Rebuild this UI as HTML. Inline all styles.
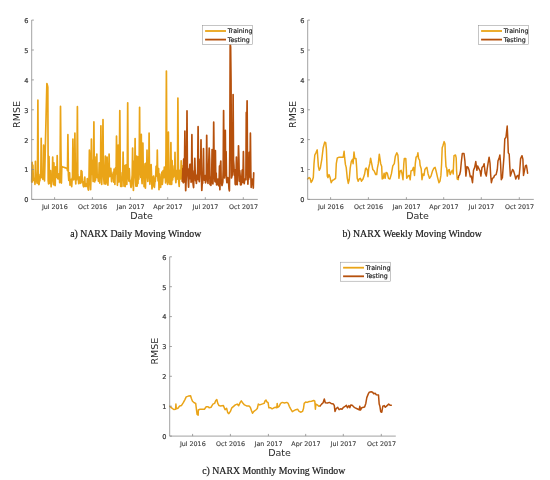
<!DOCTYPE html>
<html><head><meta charset="utf-8"><title>NARX Moving Window RMSE</title>
<style>
html,body{margin:0;padding:0;background:#fff;}
svg{display:block;}
</style></head>
<body>
<svg width="550" height="480" viewBox="0 0 550 480">
<rect width="550" height="480" fill="#ffffff"/>
<g transform="translate(0.0 0.0)">
<path d="M31.7 182.0 L32.1 162.4 L32.5 181.9 L32.9 165.2 L33.3 179.1 L33.8 180.1 L34.2 178.6 L34.6 178.6 L35.0 184.4 L35.4 161.3 L35.8 181.5 L36.2 178.4 L36.6 179.8 L37.1 183.2 L37.5 170.1 L37.9 100.2 L38.3 170.9 L38.7 184.6 L39.1 184.1 L39.5 179.8 L39.9 180.7 L40.3 174.3 L40.8 178.0 L41.2 138.3 L41.6 177.1 L42.0 177.0 L42.4 173.5 L42.8 179.3 L43.2 174.1 L43.6 145.2 L44.1 176.3 L44.5 180.9 L44.9 164.7 L45.3 148.4 L45.7 132.2 L46.1 116.0 L46.5 99.7 L46.9 83.5 L47.4 85.3 L47.8 87.1 L48.2 180.9 L48.6 183.9 L49.0 156.5 L49.4 179.1 L49.8 178.5 L50.2 183.4 L50.6 170.7 L51.1 186.8 L51.5 180.6 L51.9 177.5 L52.3 180.3 L52.7 157.1 L53.1 179.9 L53.5 184.7 L53.9 162.9 L54.4 184.8 L54.8 174.6 L55.2 185.6 L55.6 166.8 L56.0 176.8 L56.4 171.3 L56.8 177.3 L57.2 155.5 L57.6 178.3 L58.1 178.9 L58.5 178.1 L58.9 173.8 L59.3 174.0 L59.7 182.6 L60.1 166.7 L60.5 106.4 L60.9 148.1 L61.4 183.1 L61.8 166.6 L62.2 166.8 L62.6 166.9 L63.0 167.0 L63.4 167.2 L63.8 167.3 L64.2 167.4 L64.6 167.6 L65.1 167.7 L65.5 167.9 L65.9 168.0 L66.3 168.1 L66.7 168.3 L67.1 168.4 L67.5 170.6 L67.9 134.7 L68.4 175.0 L68.8 180.5 L69.2 177.9 L69.6 172.8 L70.0 185.1 L70.4 180.4 L70.8 182.6 L71.2 179.4 L71.7 186.7 L72.1 180.0 L72.5 176.3 L72.9 139.2 L73.3 175.1 L73.7 179.8 L74.1 178.8 L74.5 168.4 L74.9 133.2 L75.4 177.1 L75.8 184.0 L76.2 165.0 L76.6 179.9 L77.0 160.5 L77.4 106.7 L77.8 174.7 L78.2 177.4 L78.7 183.6 L79.1 182.6 L79.5 177.2 L79.9 182.9 L80.3 176.8 L80.7 183.3 L81.1 170.7 L81.5 181.9 L81.9 171.3 L82.4 180.7 L82.8 181.7 L83.2 185.6 L83.6 186.8 L84.0 183.3 L84.4 180.9 L84.8 177.1 L85.2 186.5 L85.7 183.5 L86.1 185.4 L86.5 184.8 L86.9 186.5 L87.3 178.7 L87.7 184.2 L88.1 189.2 L88.5 190.0 L89.0 178.8 L89.4 150.2 L89.8 157.7 L90.2 178.1 L90.6 189.6 L91.0 176.6 L91.4 139.2 L91.8 174.4 L92.2 160.0 L92.7 166.1 L93.1 181.6 L93.5 164.8 L93.9 121.9 L94.3 169.9 L94.7 182.0 L95.1 175.0 L95.5 180.3 L96.0 156.8 L96.4 173.0 L96.8 154.1 L97.2 177.6 L97.6 176.3 L98.0 176.0 L98.4 181.1 L98.8 177.4 L99.2 162.9 L99.7 183.1 L100.1 163.6 L100.5 172.7 L100.9 125.8 L101.3 174.3 L101.7 184.4 L102.1 173.6 L102.5 164.4 L103.0 119.5 L103.4 170.4 L103.8 179.3 L104.2 183.9 L104.6 169.1 L105.0 166.9 L105.4 156.0 L105.8 184.1 L106.2 182.1 L106.7 170.3 L107.1 157.1 L107.5 177.8 L107.9 185.2 L108.3 174.9 L108.7 177.3 L109.1 154.1 L109.5 175.2 L110.0 170.1 L110.4 176.4 L110.8 168.4 L111.2 174.4 L111.6 181.7 L112.0 176.2 L112.4 177.2 L112.8 174.9 L113.3 172.2 L113.7 182.1 L114.1 169.1 L114.5 175.1 L114.9 184.4 L115.3 169.2 L115.7 167.5 L116.1 173.9 L116.5 136.2 L117.0 171.5 L117.4 185.3 L117.8 174.5 L118.2 145.2 L118.6 158.1 L119.0 182.0 L119.4 162.1 L119.8 110.6 L120.3 170.4 L120.7 186.5 L121.1 181.9 L121.5 177.1 L121.9 186.5 L122.3 172.7 L122.7 176.4 L123.1 152.0 L123.5 172.8 L124.0 186.1 L124.4 165.6 L124.8 181.0 L125.2 186.6 L125.6 169.9 L126.0 164.9 L126.4 181.4 L126.8 184.4 L127.3 167.6 L127.7 102.8 L128.1 171.6 L128.5 177.4 L128.9 181.2 L129.3 168.5 L129.7 178.8 L130.1 180.8 L130.5 183.7 L131.0 187.4 L131.4 186.2 L131.8 179.5 L132.2 175.2 L132.6 148.1 L133.0 173.2 L133.4 190.4 L133.8 177.1 L134.3 161.0 L134.7 173.2 L135.1 138.6 L135.5 177.8 L135.9 186.1 L136.3 179.4 L136.7 156.0 L137.1 186.2 L137.6 180.6 L138.0 183.5 L138.4 156.5 L138.8 179.3 L139.2 160.3 L139.6 107.3 L140.0 173.2 L140.4 171.4 L140.8 177.5 L141.3 134.4 L141.7 178.2 L142.1 183.7 L142.5 161.7 L142.9 143.1 L143.3 174.2 L143.7 171.1 L144.1 186.7 L144.6 172.8 L145.0 163.9 L145.4 188.1 L145.8 177.8 L146.2 162.9 L146.6 176.5 L147.0 150.2 L147.4 176.4 L147.8 181.4 L148.3 170.3 L148.7 177.2 L149.1 133.2 L149.5 174.4 L149.9 184.3 L150.3 173.4 L150.7 181.1 L151.1 164.6 L151.6 177.9 L152.0 189.0 L152.4 185.3 L152.8 186.0 L153.2 176.9 L153.6 176.1 L154.0 179.1 L154.4 187.4 L154.9 181.1 L155.3 181.5 L155.7 176.1 L156.1 166.3 L156.5 175.8 L156.9 176.0 L157.3 150.2 L157.7 174.2 L158.1 180.9 L158.6 168.5 L159.0 189.7 L159.4 176.5 L159.8 174.2 L160.2 182.3 L160.6 187.5 L161.0 182.4 L161.4 181.4 L161.9 172.0 L162.3 184.5 L162.7 181.0 L163.1 170.6 L163.5 173.4 L163.9 177.7 L164.3 167.2 L164.7 171.4 L165.1 170.9 L165.6 182.9 L166.0 152.5 L166.4 71.0 L166.8 156.7 L167.2 179.8 L167.6 184.4 L168.0 176.7 L168.4 132.0 L168.9 173.8 L169.3 182.4 L169.7 184.1 L170.1 184.4 L170.5 176.3 L170.9 142.5 L171.3 174.8 L171.7 184.4 L172.1 160.7 L172.6 179.9 L173.0 174.0 L173.4 177.1 L173.8 175.7 L174.2 165.8 L174.6 175.9 L175.0 152.3 L175.4 177.1 L175.9 182.6 L176.3 177.4 L176.7 170.4 L177.1 179.2 L177.5 170.3 L177.9 98.1 L178.3 162.0 L178.7 181.7 L179.2 186.4 L179.6 170.3 L180.0 173.5 L180.4 178.8 L180.8 178.9 L181.2 160.8 L181.6 168.8 L182.0 165.5 L182.4 181.3" fill="none" stroke="#EAA417" stroke-width="1.7" stroke-linejoin="round" stroke-linecap="round"/>
<path d="M182.4 181.3 L182.9 168.4 L183.3 182.8 L183.7 159.1 L184.1 181.9 L184.5 165.4 L184.9 131.2 L185.3 170.6 L185.7 190.7 L186.2 178.5 L186.6 172.2 L187.0 110.9 L187.4 173.1 L187.8 168.5 L188.2 179.8 L188.6 187.2 L189.0 175.7 L189.4 171.4 L189.9 164.4 L190.3 178.7 L190.7 164.3 L191.1 182.3 L191.5 176.7 L191.9 134.7 L192.3 178.8 L192.7 179.5 L193.2 184.8 L193.6 187.6 L194.0 170.9 L194.4 171.5 L194.8 158.3 L195.2 172.8 L195.6 180.8 L196.0 177.3 L196.4 183.4 L196.9 175.0 L197.3 179.7 L197.7 166.9 L198.1 126.7 L198.5 170.5 L198.9 179.5 L199.3 181.7 L199.7 174.2 L200.2 159.1 L200.6 173.4 L201.0 139.8 L201.4 174.0 L201.8 190.4 L202.2 183.6 L202.6 183.5 L203.0 176.0 L203.5 148.7 L203.9 179.5 L204.3 180.1 L204.7 178.8 L205.1 175.7 L205.5 182.8 L205.9 181.5 L206.3 177.0 L206.7 135.3 L207.2 178.4 L207.6 178.2 L208.0 183.5 L208.4 172.6 L208.8 162.4 L209.2 148.1 L209.6 159.2 L210.0 184.4 L210.5 178.2 L210.9 185.5 L211.3 180.4 L211.7 175.4 L212.1 149.6 L212.5 180.1 L212.9 183.9 L213.3 172.0 L213.7 122.2 L214.2 173.1 L214.6 176.8 L215.0 181.7 L215.4 150.5 L215.8 181.9 L216.2 173.0 L216.6 184.9 L217.0 180.0 L217.5 184.5 L217.9 179.1 L218.3 183.8 L218.7 185.7 L219.1 181.5 L219.5 166.1 L219.9 189.7 L220.3 166.4 L220.8 161.0 L221.2 182.9 L221.6 183.2 L222.0 185.5 L222.4 183.7 L222.8 182.0 L223.2 170.1 L223.6 110.6 L224.0 168.1 L224.5 177.9 L224.9 169.9 L225.3 130.3 L225.7 175.3 L226.1 151.6 L226.5 178.7 L226.9 182.7 L227.3 181.1 L227.8 177.7 L228.2 181.8 L228.6 182.1 L229.0 188.8 L229.4 190.8 L229.8 151.1 L230.2 43.8 L230.6 46.8 L231.0 79.6 L231.5 177.9 L231.9 176.2 L232.3 174.7 L232.7 165.5 L233.1 94.5 L233.5 159.7 L233.9 165.0 L234.3 175.3 L234.8 169.6 L235.2 184.1 L235.6 184.6 L236.0 179.0 L236.4 157.1 L236.8 178.6 L237.2 184.6 L237.6 171.6 L238.0 175.2 L238.5 145.8 L238.9 158.7 L239.3 181.1 L239.7 170.6 L240.1 175.3 L240.5 184.7 L240.9 184.9 L241.3 184.5 L241.8 177.9 L242.2 170.1 L242.6 182.5 L243.0 178.6 L243.4 151.7 L243.8 179.4 L244.2 183.7 L244.6 180.4 L245.1 179.3 L245.5 178.7 L245.9 179.7 L246.3 112.4 L246.7 133.2 L247.1 100.8 L247.5 169.9 L247.9 184.2 L248.3 172.7 L248.8 178.9 L249.2 152.3 L249.6 177.0 L250.0 173.4 L250.4 133.2 L250.8 172.6 L251.2 187.5 L251.6 181.5 L252.1 179.1 L252.5 181.1 L252.9 181.5 L253.3 188.1 L253.7 172.9" fill="none" stroke="#B6500C" stroke-width="1.7" stroke-linejoin="round" stroke-linecap="round"/>
<path d="M31.7 20.1 V199.4 H257.8 M31.7 199.4 h2.2 M31.7 169.5 h2.2 M31.7 139.6 h2.2 M31.7 109.8 h2.2 M31.7 79.9 h2.2 M31.7 50.0 h2.2 M31.7 20.1 h2.2 M54.6 199.4 v-2.2 M92.4 199.4 v-2.2 M130.4 199.4 v-2.2 M167.7 199.4 v-2.2 M205.3 199.4 v-2.2 M243.3 199.4 v-2.2" fill="none" stroke="#8a8a8a" stroke-width="0.8"/>
<g font-family="'DejaVu Sans', 'Liberation Sans', sans-serif" fill="#2a2a2a">
<g fill="#3a3a3a" stroke="#3a3a3a" stroke-width="0.12">
<text x="28.4" y="202.3" font-size="6.6" stroke-width="0.2" text-anchor="end">0</text>
<text x="28.4" y="172.4" font-size="6.6" stroke-width="0.2" text-anchor="end">1</text>
<text x="28.4" y="142.5" font-size="6.6" stroke-width="0.2" text-anchor="end">2</text>
<text x="28.4" y="112.7" font-size="6.6" stroke-width="0.2" text-anchor="end">3</text>
<text x="28.4" y="82.8" font-size="6.6" stroke-width="0.2" text-anchor="end">4</text>
<text x="28.4" y="52.9" font-size="6.6" stroke-width="0.2" text-anchor="end">5</text>
<text x="28.4" y="23.0" font-size="6.6" stroke-width="0.2" text-anchor="end">6</text>
<text x="54.8" y="209.0" font-size="6.35" text-anchor="middle">Jul 2016</text>
<text x="92.6" y="209.0" font-size="6.35" text-anchor="middle">Oct 2016</text>
<text x="130.6" y="209.0" font-size="6.35" text-anchor="middle">Jan 2017</text>
<text x="167.9" y="209.0" font-size="6.35" text-anchor="middle">Apr 2017</text>
<text x="205.5" y="209.0" font-size="6.35" text-anchor="middle">Jul 2017</text>
<text x="243.5" y="209.0" font-size="6.35" text-anchor="middle">Oct 2017</text>
</g>
<text x="141.5" y="219.2" font-size="9.5" text-anchor="middle">Date</text>
<text transform="translate(20.4 114.5) rotate(-90)" font-size="9.5" text-anchor="middle">RMSE</text>
<rect x="202.5" y="25.5" width="50.2" height="19" fill="#fff" stroke="#8c8c8c" stroke-width="0.5"/>
<path d="M205.1 31 H226" stroke="#EAA417" stroke-width="1.8"/>
<path d="M205.1 39.6 H226" stroke="#B6500C" stroke-width="1.8"/>
<text x="227.7" y="33.2" font-size="6.3" stroke="#222" stroke-width="0.2">Training</text>
<text x="227.7" y="41.7" font-size="6.3" stroke="#222" stroke-width="0.2">Testing</text>
</g>
<text x="135.7" y="237.3" font-family="'Liberation Serif', serif" font-size="9.8" fill="#1a1a1a" stroke="#1a1a1a" stroke-width="0.2" text-anchor="middle">a) NARX Daily Moving Window</text>
</g>
<g transform="translate(276.0 0.0)">
<path d="M31.6 179.0 L33.1 177.6 L34.1 178.3 L35.1 182.4 L36.3 180.5 L37.3 177.6 L38.0 163.7 L38.8 155.0 L39.9 152.8 L41.2 149.9 L41.8 157.9 L42.4 166.6 L43.3 170.3 L44.3 168.1 L45.8 159.3 L47.2 147.7 L48.7 142.1 L49.7 142.6 L50.4 149.1 L50.9 163.7 L51.3 176.1 L52.0 177.6 L53.0 174.6 L54.1 177.6 L55.2 182.7 L56.4 180.5 L57.9 179.7 L59.6 178.3 L60.3 163.7 L61.3 157.9 L63.2 157.2 L67.2 157.2 L68.1 151.3 L68.6 157.2 L69.4 164.4 L70.2 167.4 L71.3 178.3 L72.3 183.4 L73.2 179.7 L74.2 168.1 L75.3 161.5 L76.5 159.3 L77.1 163.7 L78.0 152.1 L78.8 158.6 L80.0 158.6 L80.7 168.1 L81.2 178.3 L82.2 181.2 L83.2 179.0 L84.4 178.3 L85.5 181.2 L87.0 179.0 L88.5 174.6 L89.5 168.8 L90.2 168.1 L91.4 170.3 L92.0 176.8 L92.7 168.1 L93.8 163.7 L94.6 158.2 L95.7 163.7 L96.8 169.5 L98.2 171.0 L99.7 174.6 L100.7 174.6 L101.4 168.1 L102.3 163.7 L103.3 154.2 L104.7 163.7 L105.7 166.6 L106.2 179.0 L107.2 178.3 L108.1 173.2 L109.1 178.3 L110.1 172.5 L111.3 173.2 L112.5 178.3 L113.9 179.0 L115.4 173.9 L116.8 165.9 L118.3 163.7 L119.3 156.4 L120.8 152.8 L121.9 155.0 L122.5 163.7 L122.9 178.3 L124.1 171.0 L125.1 170.3 L126.1 173.9 L127.0 179.7 L127.8 163.7 L128.3 158.6 L129.8 158.6 L130.2 166.6 L130.7 178.3 L132.0 176.1 L133.1 175.4 L134.2 179.7 L135.0 171.0 L136.3 170.3 L137.5 167.4 L138.5 175.4 L139.3 163.7 L140.1 157.2 L141.2 156.4 L141.9 152.8 L142.6 158.6 L143.6 160.1 L144.1 165.2 L145.2 168.8 L146.0 179.7 L147.0 173.9 L148.0 175.4 L148.9 169.5 L149.9 168.1 L150.9 167.4 L152.1 173.9 L153.5 178.3 L155.0 176.1 L156.5 171.0 L157.9 168.1 L159.1 167.4 L160.1 171.0 L161.6 177.6 L163.0 182.7 L164.0 181.2 L164.9 175.4 L165.6 163.7 L166.2 147.7 L167.0 145.5 L168.1 141.6 L169.0 144.0 L169.4 156.4 L170.0 166.6 L170.7 168.1 L171.3 176.1 L172.2 170.3 L173.2 169.5 L174.2 174.6 L175.4 171.7 L176.4 170.3 L177.2 173.9 L177.6 163.7 L178.0 155.7 L179.5 155.0 L180.2 157.9 L180.6 171.0 L181.2 179.0 L182.3 179.7 L182.4 177.6" fill="none" stroke="#EAA417" stroke-width="1.5" stroke-linejoin="round" stroke-linecap="round"/>
<path d="M182.4 177.6 L182.6 176.1 L183.7 174.6 L184.5 171.0 L185.3 162.3 L186.3 153.5 L188.0 153.5 L188.9 160.8 L189.5 169.5 L189.9 176.1 L190.9 166.6 L192.1 167.4 L193.1 170.3 L194.3 176.8 L195.3 176.1 L196.5 182.7 L197.5 170.3 L198.7 167.4 L199.8 161.5 L200.9 170.3 L201.6 165.9 L203.0 168.8 L204.1 171.0 L204.9 176.1 L206.0 167.4 L207.4 165.9 L208.1 163.7 L209.2 173.2 L210.3 176.1 L211.3 168.1 L212.2 162.3 L213.1 157.2 L214.0 163.0 L214.7 175.4 L215.4 182.7 L216.4 178.3 L217.6 177.6 L218.6 175.4 L220.1 174.6 L221.3 169.5 L222.0 160.8 L223.0 158.6 L223.9 155.0 L224.6 163.7 L225.3 179.7 L226.4 177.6 L227.1 168.1 L228.0 156.4 L228.8 138.9 L230.0 137.2 L231.2 126.1 L231.8 138.9 L232.3 152.8 L233.2 154.2 L233.8 166.6 L234.4 176.1 L235.5 172.5 L236.6 169.5 L237.6 171.0 L238.7 174.6 L239.8 179.0 L240.9 176.1 L242.0 175.4 L242.8 179.0 L243.8 169.5 L244.6 158.6 L246.0 155.7 L246.9 159.3 L247.5 175.4 L248.5 170.3 L249.4 165.9 L250.4 165.2 L251.1 169.5 L251.6 173.2" fill="none" stroke="#B6500C" stroke-width="1.5" stroke-linejoin="round" stroke-linecap="round"/>
<path d="M31.7 20.1 V199.4 H257.8 M31.7 199.4 h2.2 M31.7 169.5 h2.2 M31.7 139.6 h2.2 M31.7 109.8 h2.2 M31.7 79.9 h2.2 M31.7 50.0 h2.2 M31.7 20.1 h2.2 M54.6 199.4 v-2.2 M92.4 199.4 v-2.2 M130.4 199.4 v-2.2 M167.7 199.4 v-2.2 M205.3 199.4 v-2.2 M243.3 199.4 v-2.2" fill="none" stroke="#8a8a8a" stroke-width="0.8"/>
<g font-family="'DejaVu Sans', 'Liberation Sans', sans-serif" fill="#2a2a2a">
<g fill="#3a3a3a" stroke="#3a3a3a" stroke-width="0.12">
<text x="28.4" y="202.3" font-size="6.6" stroke-width="0.2" text-anchor="end">0</text>
<text x="28.4" y="172.4" font-size="6.6" stroke-width="0.2" text-anchor="end">1</text>
<text x="28.4" y="142.5" font-size="6.6" stroke-width="0.2" text-anchor="end">2</text>
<text x="28.4" y="112.7" font-size="6.6" stroke-width="0.2" text-anchor="end">3</text>
<text x="28.4" y="82.8" font-size="6.6" stroke-width="0.2" text-anchor="end">4</text>
<text x="28.4" y="52.9" font-size="6.6" stroke-width="0.2" text-anchor="end">5</text>
<text x="28.4" y="23.0" font-size="6.6" stroke-width="0.2" text-anchor="end">6</text>
<text x="54.8" y="209.0" font-size="6.35" text-anchor="middle">Jul 2016</text>
<text x="92.6" y="209.0" font-size="6.35" text-anchor="middle">Oct 2016</text>
<text x="130.6" y="209.0" font-size="6.35" text-anchor="middle">Jan 2017</text>
<text x="167.9" y="209.0" font-size="6.35" text-anchor="middle">Apr 2017</text>
<text x="205.5" y="209.0" font-size="6.35" text-anchor="middle">Jul 2017</text>
<text x="243.5" y="209.0" font-size="6.35" text-anchor="middle">Oct 2017</text>
</g>
<text x="141.5" y="219.2" font-size="9.5" text-anchor="middle">Date</text>
<text transform="translate(20.4 114.5) rotate(-90)" font-size="9.5" text-anchor="middle">RMSE</text>
<rect x="202.5" y="25.5" width="50.2" height="19" fill="#fff" stroke="#8c8c8c" stroke-width="0.5"/>
<path d="M205.1 31 H226" stroke="#EAA417" stroke-width="1.8"/>
<path d="M205.1 39.6 H226" stroke="#B6500C" stroke-width="1.8"/>
<text x="227.7" y="33.2" font-size="6.3" stroke="#222" stroke-width="0.2">Training</text>
<text x="227.7" y="41.7" font-size="6.3" stroke="#222" stroke-width="0.2">Testing</text>
</g>
<text x="136.1" y="237.3" font-family="'Liberation Serif', serif" font-size="9.8" fill="#1a1a1a" stroke="#1a1a1a" stroke-width="0.2" text-anchor="middle">b) NARX Weekly Moving Window</text>
</g>
<g transform="translate(138.0 236.7)">
<path d="M31.7 169.6 L33.6 171.1 L35.8 172.8 L37.6 172.5 L37.9 167.4 L38.3 172.1 L39.9 171.5 L41.7 169.3 L43.4 168.9 L45.3 166.0 L46.8 163.1 L48.2 160.2 L50.4 159.4 L52.6 159.1 L53.3 161.6 L54.5 164.5 L56.2 166.0 L57.7 166.7 L58.4 172.5 L59.1 177.6 L60.2 178.4 L60.3 173.3 L62.1 172.5 L66.4 172.5 L68.2 170.1 L70.1 170.1 L71.1 171.1 L73.0 170.6 L74.9 167.4 L76.6 166.7 L77.8 163.8 L78.8 162.8 L79.8 166.7 L81.0 168.9 L82.5 169.2 L85.4 168.9 L87.1 173.0 L88.6 171.5 L89.7 175.9 L90.9 176.9 L92.4 174.7 L93.8 171.1 L95.6 169.6 L97.3 168.2 L99.2 167.4 L100.7 168.9 L102.1 166.0 L103.3 164.2 L104.6 166.0 L106.5 168.2 L108.6 169.2 L110.8 169.2 L112.3 170.6 L113.5 174.0 L114.5 176.5 L115.9 174.7 L117.8 173.3 L119.3 171.8 L120.3 167.4 L121.8 168.2 L123.9 167.4 L126.1 166.7 L127.1 164.2 L128.0 163.4 L129.0 165.3 L130.1 166.0 L130.9 171.1 L132.7 171.1 L134.1 172.1 L135.9 171.1 L137.8 170.6 L138.8 171.1 L139.2 166.7 L139.7 170.6 L141.1 169.6 L142.6 166.7 L144.3 165.7 L146.5 166.3 L148.7 165.7 L150.2 166.7 L151.3 169.6 L152.8 172.5 L154.3 175.0 L156.0 174.0 L157.8 173.0 L159.6 172.5 L161.1 174.7 L163.0 175.5 L164.5 174.7 L165.5 171.8 L166.2 166.7 L167.7 165.3 L169.1 165.7 L171.3 164.8 L173.5 164.5 L175.7 163.8 L176.8 164.5 L177.4 172.5 L177.9 167.4 L179.3 168.2 L180.8 169.6 L182.2 169.2" fill="none" stroke="#EAA417" stroke-width="1.5" stroke-linejoin="round" stroke-linecap="round"/>
<path d="M182.2 169.2 L183.6 167.4 L185.1 166.0 L186.3 162.3 L187.3 166.0 L189.5 166.3 L191.4 165.7 L193.1 166.7 L195.3 167.2 L196.3 168.9 L197.0 174.7 L198.2 171.8 L199.7 170.6 L201.1 173.0 L202.6 172.1 L204.0 172.5 L205.5 170.6 L207.0 169.6 L208.4 168.6 L209.4 171.1 L210.9 168.9 L211.8 171.1 L212.8 168.2 L214.2 168.6 L215.7 170.1 L217.2 171.1 L218.6 171.8 L220.1 172.5 L221.2 173.3 L221.8 169.6 L222.6 173.3 L223.7 171.1 L226.6 170.4 L227.8 166.7 L228.8 160.9 L230.3 157.2 L231.3 155.5 L233.2 155.1 L234.6 155.5 L235.7 157.0 L237.1 156.5 L238.3 158.0 L240.5 158.4 L241.2 167.4 L241.9 169.6 L242.7 175.0 L243.8 175.5 L244.8 169.6 L246.3 168.9 L247.3 170.6 L248.8 169.2 L250.7 167.4 L252.1 168.6 L253.3 168.6" fill="none" stroke="#B6500C" stroke-width="1.5" stroke-linejoin="round" stroke-linecap="round"/>
<path d="M31.7 20.1 V199.4 H257.8 M31.7 199.4 h2.2 M31.7 169.5 h2.2 M31.7 139.6 h2.2 M31.7 109.8 h2.2 M31.7 79.9 h2.2 M31.7 50.0 h2.2 M31.7 20.1 h2.2 M54.6 199.4 v-2.2 M92.4 199.4 v-2.2 M130.4 199.4 v-2.2 M167.7 199.4 v-2.2 M205.3 199.4 v-2.2 M243.3 199.4 v-2.2" fill="none" stroke="#8a8a8a" stroke-width="0.8"/>
<g font-family="'DejaVu Sans', 'Liberation Sans', sans-serif" fill="#2a2a2a">
<g fill="#3a3a3a" stroke="#3a3a3a" stroke-width="0.12">
<text x="28.4" y="202.3" font-size="6.6" stroke-width="0.2" text-anchor="end">0</text>
<text x="28.4" y="172.4" font-size="6.6" stroke-width="0.2" text-anchor="end">1</text>
<text x="28.4" y="142.5" font-size="6.6" stroke-width="0.2" text-anchor="end">2</text>
<text x="28.4" y="112.7" font-size="6.6" stroke-width="0.2" text-anchor="end">3</text>
<text x="28.4" y="82.8" font-size="6.6" stroke-width="0.2" text-anchor="end">4</text>
<text x="28.4" y="52.9" font-size="6.6" stroke-width="0.2" text-anchor="end">5</text>
<text x="28.4" y="23.0" font-size="6.6" stroke-width="0.2" text-anchor="end">6</text>
<text x="54.8" y="209.0" font-size="6.35" text-anchor="middle">Jul 2016</text>
<text x="92.6" y="209.0" font-size="6.35" text-anchor="middle">Oct 2016</text>
<text x="130.6" y="209.0" font-size="6.35" text-anchor="middle">Jan 2017</text>
<text x="167.9" y="209.0" font-size="6.35" text-anchor="middle">Apr 2017</text>
<text x="205.5" y="209.0" font-size="6.35" text-anchor="middle">Jul 2017</text>
<text x="243.5" y="209.0" font-size="6.35" text-anchor="middle">Oct 2017</text>
</g>
<text x="141.5" y="219.2" font-size="9.5" text-anchor="middle">Date</text>
<text transform="translate(20.4 114.5) rotate(-90)" font-size="9.5" text-anchor="middle">RMSE</text>
<rect x="202.5" y="25.5" width="50.2" height="19" fill="#fff" stroke="#8c8c8c" stroke-width="0.5"/>
<path d="M205.1 31 H226" stroke="#EAA417" stroke-width="1.8"/>
<path d="M205.1 39.6 H226" stroke="#B6500C" stroke-width="1.8"/>
<text x="227.7" y="33.2" font-size="6.3" stroke="#222" stroke-width="0.2">Training</text>
<text x="227.7" y="41.7" font-size="6.3" stroke="#222" stroke-width="0.2">Testing</text>
</g>
<text x="135.8" y="237.3" font-family="'Liberation Serif', serif" font-size="9.8" fill="#1a1a1a" stroke="#1a1a1a" stroke-width="0.2" text-anchor="middle">c) NARX Monthly Moving Window</text>
</g>
</svg>
</body></html>
